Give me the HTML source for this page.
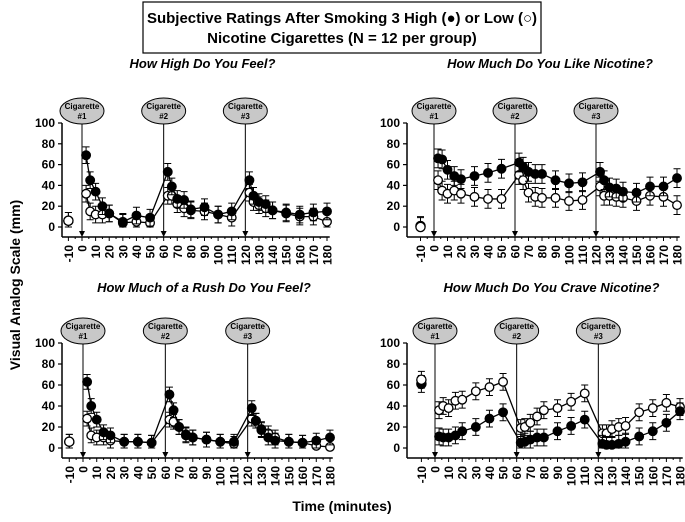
<!DOCTYPE html>
<html><head><meta charset="utf-8"><style>
body{margin:0;background:#fff;width:685px;height:517px;overflow:hidden;font-family:"Liberation Sans",sans-serif}
</style></head><body>
<svg id="chart" width="685" height="517" xmlns="http://www.w3.org/2000/svg" font-family="Liberation Sans, sans-serif">
<rect x="143" y="2" width="398" height="51" fill="#fff" stroke="#000" stroke-width="1.2"/>
<text x="342" y="23" text-anchor="middle" font-size="15" font-weight="bold">Subjective Ratings After Smoking 3 High (●) or Low (○)</text>
<text x="342" y="43" text-anchor="middle" font-size="15" font-weight="bold">Nicotine Cigarettes (N = 12 per group)</text>
<text transform="translate(20,285) rotate(-90)" text-anchor="middle" font-size="14" font-weight="bold">Visual Analog Scale (mm)</text>
<text x="342" y="511" text-anchor="middle" font-size="14" font-weight="bold">Time (minutes)</text>
<g id="panels"></g>
</svg>
<script>
const times=[-10,3,6,10,15,20,30,40,50,63,66,70,75,80,90,100,110,123,126,130,135,140,150,160,170,180];
const tickLabels=[-10,0,10,20,30,40,50,60,70,80,90,100,110,120,130,140,150,160,170,180];
const yTicks=[0,20,40,60,80,100];
const cigTimes=[0,60,120];
const highFeelHigh=[6,69,45,34,20,13,5,11,9,53,39,27,26,17,19,12,15,45,30,24,22,16,14,12,14,15];
const highFeelLow=[6,32,15,12,12,13,4,5,4,30,30,22,18,16,15,12,9,33,24,21,18,16,13,10,10,5];
const likeHigh=[1,66,65,55,49,46,49,52,56,62,58,53,51,51,45,42,43,53,45,38,37,34,33,39,39,47];
const likeLow=[0,45,35,32,35,32,29,27,27,50,45,33,29,28,28,25,26,39,30,30,29,28,25,30,29,21];
const rushHigh=[6,63,40,27,15,12,6,6,5,51,36,20,13,10,8,6,6,38,26,17,10,7,6,5,7,10];
const rushLow=[6,28,12,10,10,7,6,6,5,27,25,20,12,10,8,6,4,28,26,18,14,10,6,5,2,1];
const craveHigh=[61,11,10,10,12,16,20,28,34,5,6,8,10,10,16,21,27,4,3,3,4,6,11,16,24,35];
const craveLow=[65,36,40,38,45,46,54,58,63,19,20,24,30,36,38,44,52,14,14,18,20,21,34,38,43,39];
const panelTitles=["How High Do You Feel?","How Much Do You Like Nicotine?","How Much of a Rush Do You Feel?","How Much Do You Crave Nicotine?"];
const panelErr=[8,9,7,8];
const NS="http://www.w3.org/2000/svg";
const root=document.getElementById('panels');
function mk(tag,attrs,parent,text){const e=document.createElementNS(NS,tag);for(const k in attrs)e.setAttribute(k,attrs[k]);if(text!==undefined)e.textContent=text;(parent||root).appendChild(e);return e;}
const layouts=[
 {ax:62,x0:82,x1:327,y0:227,y1:123,ty:68},
 {ax:407,x0:434,x1:677,y0:227,y1:123,ty:68},
 {ax:62,x0:83,x1:330,y0:448,y1:343,ty:292},
 {ax:407,x0:435,x1:680,y0:448,y1:343,ty:292}];
const series=[[highFeelHigh,highFeelLow],[likeHigh,likeLow],[rushHigh,rushLow],[craveHigh,craveLow]];
layouts.forEach((L,pi)=>{
 const g=mk('g',{});
 
 
 const X=t=>L.x0+(t)*(L.x1-L.x0)/180;
 const Y=v=>L.y0+(v)*(L.y1-L.y0)/100;
 const axY=L.y0+10;
 const t=mk('text',{x:(L.ax+L.x1)/2+8,y:L.ty,'text-anchor':'middle','font-size':13,'font-weight':'bold','font-style':'italic'},g,panelTitles[pi]);
 
 
 const ya=mk('line',{x1:L.ax,y1:L.y1,x2:L.ax,y2:axY,stroke:'#000','stroke-width':1.5},g);
 
 
 const xa=mk('line',{x1:L.ax,y1:axY,x2:X(182),y2:axY,stroke:'#000','stroke-width':1.5},g);
 
 
 yTicks.forEach(v=>{
  mk('line',{x1:L.ax-4,x2:L.ax,y1:Y(v),y2:Y(v),stroke:'#000','stroke-width':1.2},g);
  const tl=mk('text',{x:L.ax-7,y:Y(v)+4,'text-anchor':'end','font-size':12,'font-weight':'bold'},g,v);
  
  
 });
 for(let tt=-10;tt<=180;tt+=5){mk('line',{x1:X(tt),x2:X(tt),y1:axY,y2:axY+(tt%10===0?4:2),stroke:'#000','stroke-width':1},g);}
 tickLabels.forEach(v=>{
  const tl=mk('text',{transform:`translate(${X(v)+4.5},${axY+8}) rotate(-90)`,'text-anchor':'end','font-size':12,'font-weight':'bold'},g,v);
  
  
 });
 cigTimes.forEach((c,ci)=>{
  const cx=X(c),cy=L.y1-12;
  const ln=mk('line',{x1:cx,x2:cx,y1:cy+12,y2:axY-5,stroke:'#000','stroke-width':1},g);
  
  
  mk('path',{d:`M${cx-3},${axY-6} L${cx+3},${axY-6} L${cx},${axY} Z`,fill:'#000'},g);
  const el=mk('ellipse',{cx:cx,cy:cy,rx:22,ry:13,fill:'#c8c8c8',stroke:'#000','stroke-width':1},g);
  
  
  mk('text',{x:cx,y:cy-2,'text-anchor':'middle','font-size':8,'font-weight':'bold'},g,'Cigarette');
  mk('text',{x:cx,y:cy+8,'text-anchor':'middle','font-size':8,'font-weight':'bold'},g,'#'+(ci+1));
 });
 const [hi,lo]=series[pi];
 const err=panelErr[pi];
 [[lo,'#fff'],[hi,'#000']].forEach(([vals,fill],si)=>{
  const lineG=mk('g',{},g);
  
  
  let d='';
  for(let i=1;i<vals.length;i++){d+=(i===1?'M':'L')+X(times[i])+','+Y(vals[i]);}
  mk('path',{d:d,fill:'none',stroke:'#000','stroke-width':1.3},lineG);
  vals.forEach((v,i)=>{
   const x=X(times[i]),y=Y(v),ye=Y(v+err),yl=Y(Math.max(0,v-err));
   mk('path',{d:`M${x},${ye}L${x},${yl}M${x-3.5},${ye}L${x+3.5},${ye}M${x-3.5},${yl}L${x+3.5},${yl}`,stroke:'#000','stroke-width':1,fill:'none'},lineG);
  });
  vals.forEach((v,i)=>{
   if(i===0) return;
   const p=mk('circle',{cx:X(times[i]),cy:Y(v),r:4.3,fill:fill,stroke:'#000','stroke-width':1.3},lineG);
   
   
  });
 });
 // baseline points: high first, low on top
 [[hi,'#000'],[lo,'#fff']].forEach(([vals,fill])=>{
  const p=mk('circle',{cx:X(times[0]),cy:Y(vals[0]),r:4.6,fill:fill,stroke:'#000','stroke-width':1.3},g);
  
  
 });
});
</script>
</body></html>
